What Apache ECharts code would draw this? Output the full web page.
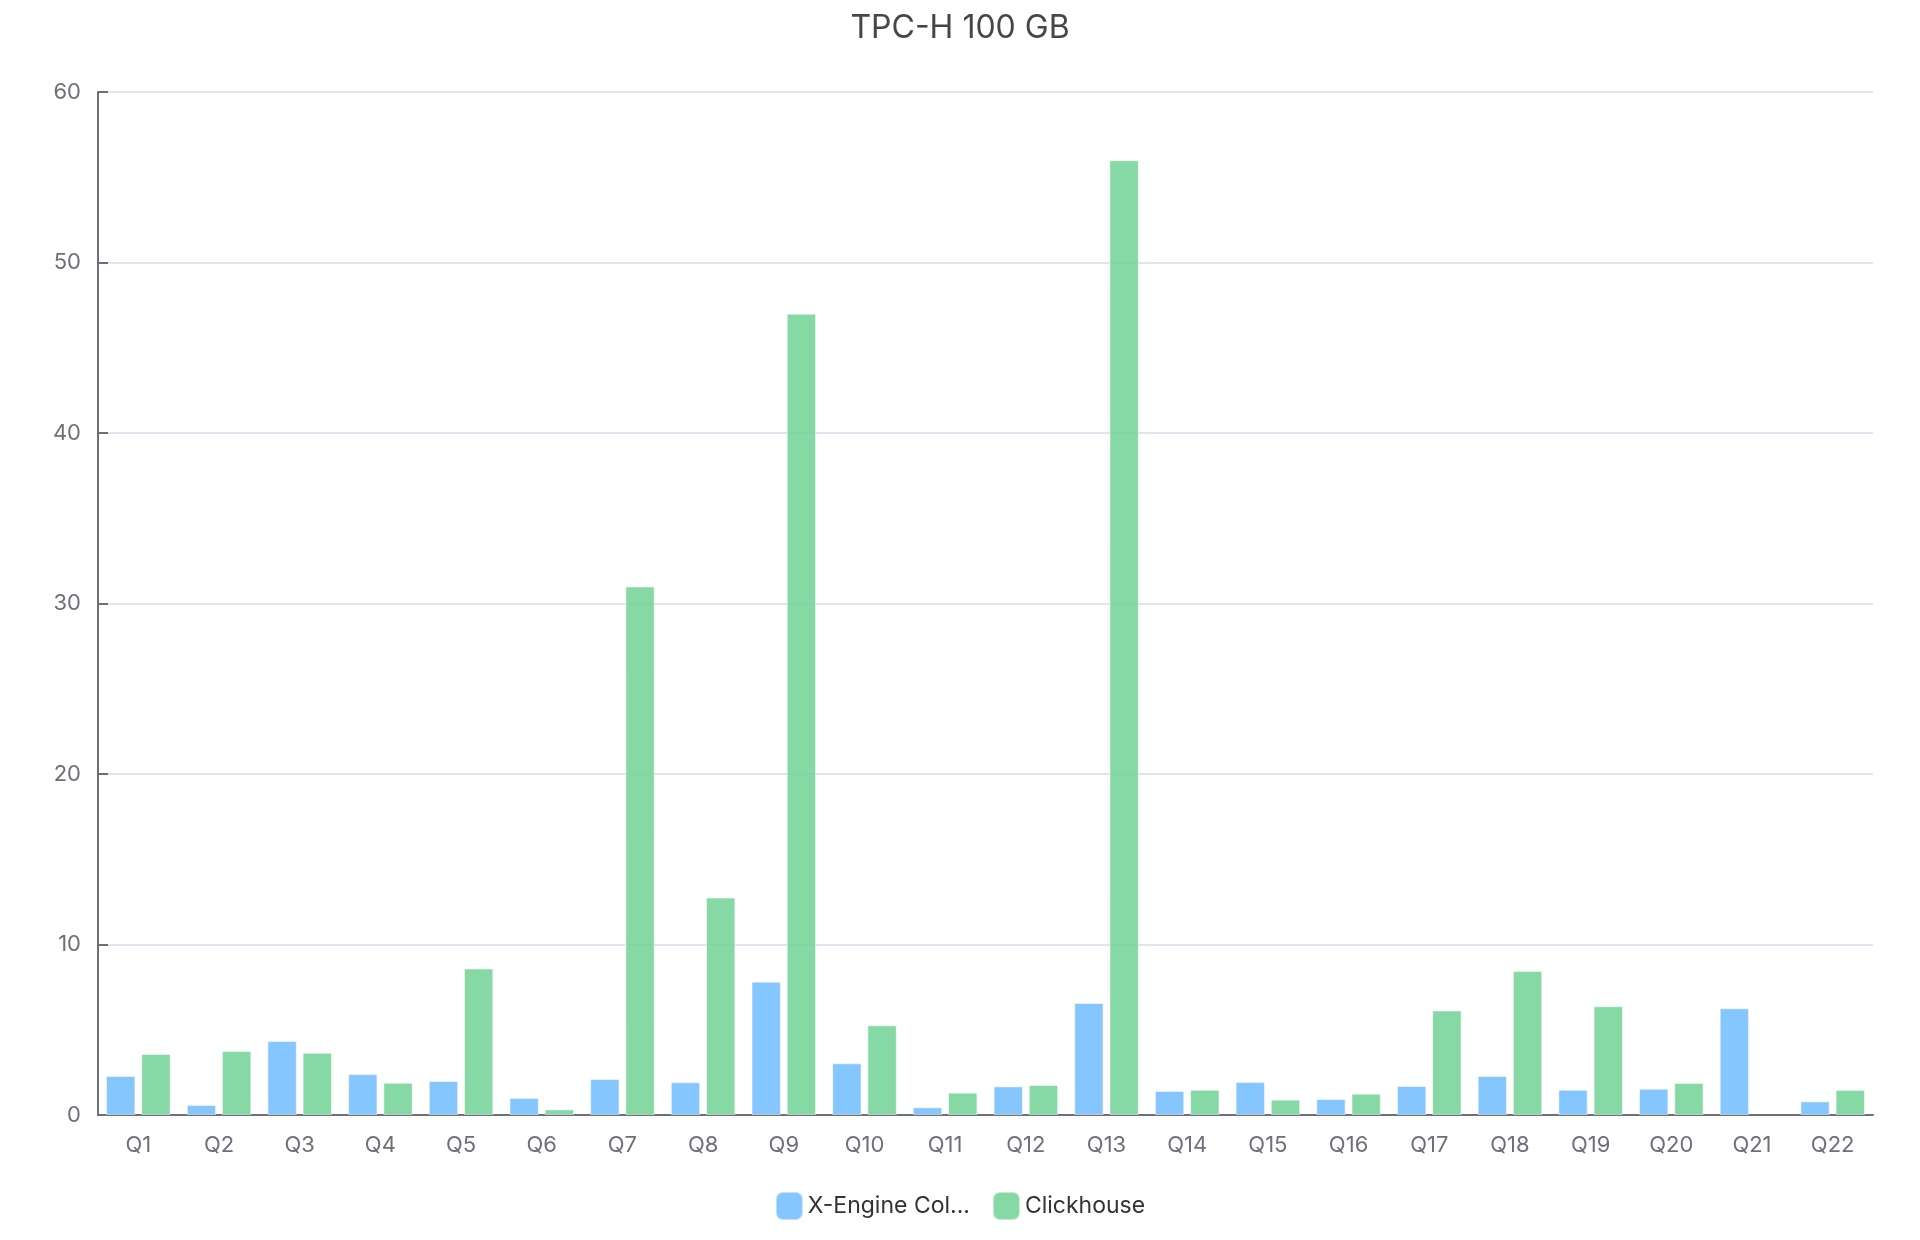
<!DOCTYPE html>
<html>
<head>
<meta charset="utf-8">
<script src="https://cdn.jsdelivr.net/npm/echarts@6/dist/echarts.min.js"></script>
<style>
  html, body { margin: 0; padding: 0; background: #fff; }
  #container { width: 1920px; height: 1240px; }
</style>
</head>
<body>
<div id="container"></div>
<script>
let queries = ['Q1','Q2','Q3','Q4','Q5','Q6','Q7','Q8','Q9','Q10','Q11','Q12','Q13','Q14','Q15','Q16','Q17','Q18','Q19','Q20','Q21','Q22'];
let xengine = [2.29, 0.59, 4.34, 2.40, 1.99, 1.00, 2.11, 1.92, 7.82, 3.03, 0.45, 1.68, 6.57, 1.41, 1.94, 0.94, 1.70, 2.29, 1.48, 1.54, 6.26, 0.80];
let clickhouse = [3.58, 3.75, 3.65, 1.89, 8.59, 0.33, 31.0, 12.75, 47.0, 5.26, 1.31, 1.76, 56.0, 1.48, 0.90, 1.25, 6.13, 8.45, 6.38, 1.88, null, 1.47];
let seriesNames = ['X-Engine Column Index', 'Clickhouse'];

let font = 'Inter, "Noto Sans", sans-serif';
let axisGrey = '#6E7079';

let dom = document.getElementById('container');
let chart = echarts.init(dom);

chart.setOption({
    backgroundColor: '#fff',
    color: ['rgba(113,188,255,0.85)', 'rgba(113,210,149,0.85)'],
    title: {
        text: 'TPC-H 100 GB',
        left: 'center',
        top: 12,
        padding: 0,
        textStyle: { fontFamily: font, fontSize: 32, fontWeight: 'normal', color: '#464646' }
    },
    legend: {
        top: 1191,
        left: 'center',
        padding: 0,
        icon: 'roundRect',
        itemWidth: 27,
        itemHeight: 28,
        itemGap: 22,
        textStyle: { fontFamily: font, fontSize: 23, color: '#333' },
        data: [
            { name: seriesNames[0], textStyle: { width: 175, overflow: 'truncate', ellipsis: '...' } },
            seriesNames[1]
        ]
    },
    grid: { left: 98, right: 47, top: 92, bottom: 125 },
    xAxis: {
        type: 'category',
        data: queries,
        axisLine: { lineStyle: { color: axisGrey, width: 2 } },
        axisTick: { inside: true, length: 10, lineStyle: { width: 2 } },
        axisLabel: { margin: 19, fontFamily: font, fontSize: 22, color: axisGrey }
    },
    yAxis: {
        type: 'value',
        min: 0,
        max: 60,
        interval: 10,
        axisLine: { show: true, lineStyle: { color: axisGrey, width: 2 } },
        axisTick: { show: true, inside: true, length: 10, lineStyle: { width: 2 } },
        axisLabel: { margin: 17, fontFamily: font, fontSize: 22, color: axisGrey },
        splitLine: { lineStyle: { color: '#E0E6F1', width: 2 } }
    },
    series: [{
        name: seriesNames[0],
        type: 'bar',
        data: xengine,
        barGap: '20%',
        barCategoryGap: '20%',
        itemStyle: { borderColor: 'rgba(255,255,255,0.5)', borderWidth: 1 }
    }, {
        name: seriesNames[1],
        type: 'bar',
        data: clickhouse,
        itemStyle: { borderColor: 'rgba(255,255,255,0.5)', borderWidth: 1 }
    }]
});
</script>
</body>
</html>
